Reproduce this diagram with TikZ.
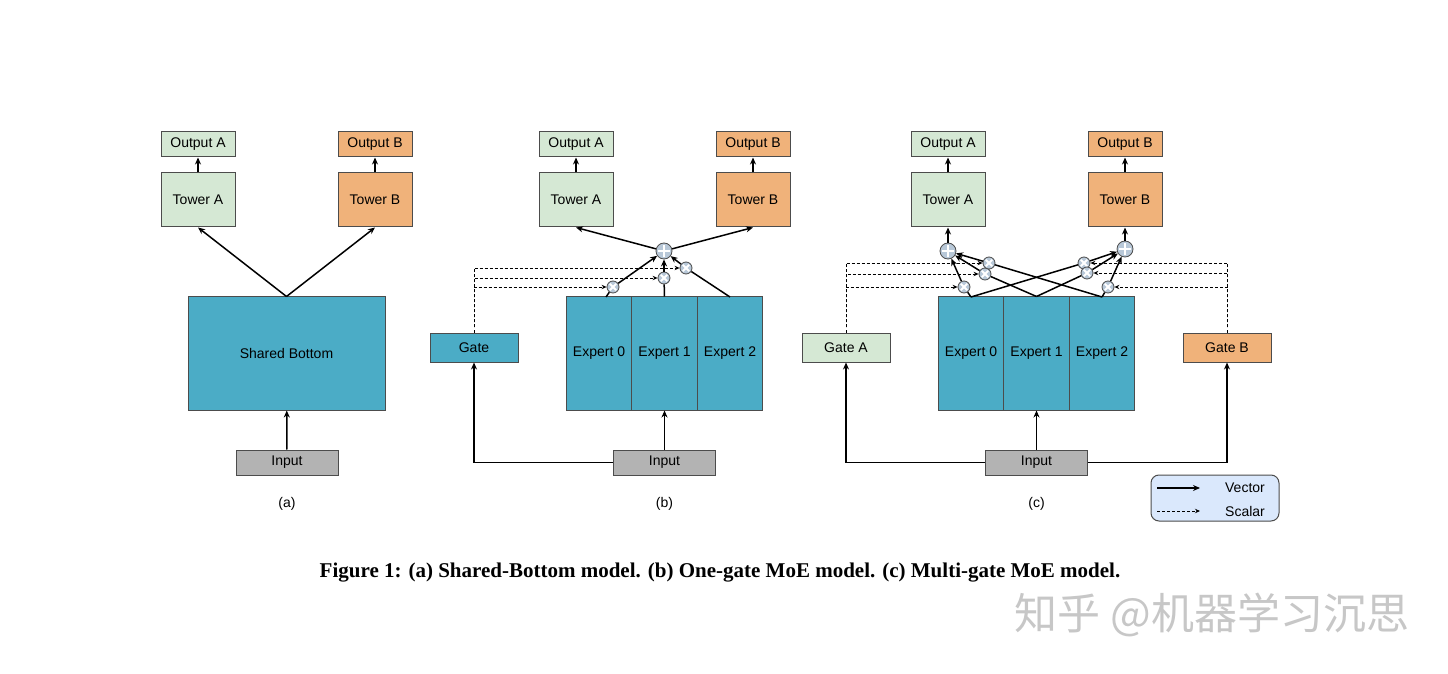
\documentclass[tikz,border=0pt]{standalone}
\usepackage{fontspec}
\setmainfont{Liberation Serif}
\newfontfamily\sans{Liberation Sans}
\newfontfamily\cjk{Noto Sans CJK SC}
\usetikzlibrary{arrows.meta}
\definecolor{gr}{HTML}{D5E8D4}
\definecolor{grd}{HTML}{82B366}
\definecolor{orf}{HTML}{F0B27A}
\definecolor{ord}{HTML}{B46504}
\definecolor{blf}{HTML}{4BACC6}
\definecolor{gyf}{HTML}{B3B3B3}
\definecolor{lgf}{HTML}{DAE8FC}
\definecolor{cf}{HTML}{B8C8D8}
\begin{document}
\begin{tikzpicture}[x=0.5pt,y=-0.5pt,
  box/.style={draw=black!70,inner sep=0,font=\sans\fontsize{7}{8}\selectfont,line width=0.5pt},
  outg/.style={box,fill=gr,minimum width=37pt,minimum height=12.5pt},
  outo/.style={box,fill=orf,minimum width=37pt,minimum height=12.5pt},
  towg/.style={box,fill=gr,minimum width=37pt,minimum height=27pt},
  towo/.style={box,fill=orf,minimum width=37pt,minimum height=27pt},
  inp/.style={box,fill=gyf,minimum width=51pt,minimum height=12.5pt},
  exp/.style={box,fill=blf,minimum width=32.83pt,minimum height=56.5pt},
  gate/.style={box,minimum width=44pt,minimum height=14.5pt},
  vec/.style={-{Stealth[length=3.5pt,width=3pt]},line width=0.75pt},
  sc/.style={-{Stealth[length=2.5pt,width=2.2pt]},dash pattern=on 1.5pt off 1pt,line width=0.4pt},
  mult/.style={circle,draw=black!70,fill=cf,minimum size=6pt,inner sep=0,line width=0.4pt,
    path picture={\draw[white,line width=0.9pt] ([shift={(-1.6pt,1.6pt)}]path picture bounding box.center)--([shift={(1.6pt,-1.6pt)}]path picture bounding box.center) ([shift={(1.6pt,1.6pt)}]path picture bounding box.center)--([shift={(-1.6pt,-1.6pt)}]path picture bounding box.center);}},
  sum/.style={circle,draw=black!70,fill=cf,minimum size=8pt,inner sep=0,line width=0.4pt,
    path picture={\draw[white,line width=1.3pt] ([yshift=2.8pt]path picture bounding box.center)--([yshift=-2.8pt]path picture bounding box.center) ([xshift=2.8pt]path picture bounding box.center)--([xshift=-2.8pt]path picture bounding box.center);}},
  lab/.style={font=\sans\fontsize{7}{8}\selectfont}]
\useasboundingbox (0,0) rectangle (1448,674);
% ---------- panel a
\node[outg] (aoa) at (198,144.5) {Output A};
\node[towg] (ata) at (198,200) {Tower A};
\node[outo] (aob) at (375,144.5) {Output B};
\node[towo] (atb) at (375,200) {Tower B};
\node[box,fill=blf,minimum width=98.5pt,minimum height=56.5pt] (asb) at (286.5,353.5) {Shared Bottom};
\node[inp] (ain) at (287,462.5) {Input};
\node[lab] (la) at (287,504) {(a)};
\draw[vec] (ain) -- (asb);
\draw[vec] (asb.north) -- (ata.south);
\draw[vec] (asb.north) -- (atb.south);
\draw[vec] (ata) -- (aoa);
\draw[vec] (atb) -- (aob);
% ---------- panel b
\node[outg] (boa) at (576,144.5) {Output A};
\node[towg] (bta) at (576,200) {Tower A};
\node[outo] (bob) at (753,144.5) {Output B};
\node[towo] (btb) at (753,200) {Tower B};
\node[exp] (be0) at (599,353.5) {Expert 0};
\node[exp] (be1) at (664.5,353.5) {Expert 1};
\node[exp] (be2) at (730,353.5) {Expert 2};
\node[gate,fill=blf] (bg) at (474,347.5) {Gate};
\node[inp] (bin) at (664.5,462.5) {Input};
\node[lab] (lb) at (664.5,504) {(b)};
\node[sum] (bs) at (664,251) {};
\node[mult] (bm0) at (613,287) {};
\node[mult] (bm1) at (664,278) {};
\node[mult] (bm2) at (686,268) {};
\coordinate (be0t) at (606,297);
\coordinate (be2t) at (730,297);
\draw[vec] (bin) -- (be1);
\draw[vec] (bin.west) -| (bg.south);
\draw[line width=0.75pt] (be0t) -- (bm0);
\draw[vec] (bm0) -- (bs);
\draw[line width=0.75pt] (be1.north) -- (bm1);
\draw[vec] (bm1) -- (bs);
\draw[line width=0.75pt] (be2t) -- (bm2);
\draw[vec] (bm2) -- (bs);
\draw[sc] (bg.north) |- (bm0.west);
\draw[sc] (bg.north) |- (bm1.west);
\draw[sc] (bg.north) |- (bm2.west);
\draw[vec] (bs) -- (bta.south);
\draw[vec] (bs) -- (btb.south);
\draw[vec] (bta) -- (boa);
\draw[vec] (btb) -- (bob);
% ---------- panel c
\node[outg] (coa) at (948,144.5) {Output A};
\node[towg] (cta) at (948,200) {Tower A};
\node[outo] (cob) at (1125,144.5) {Output B};
\node[towo] (ctb) at (1125,200) {Tower B};
\node[exp] (ce0) at (971,353.5) {Expert 0};
\node[exp] (ce1) at (1036.5,353.5) {Expert 1};
\node[exp] (ce2) at (1102,353.5) {Expert 2};
\node[gate,fill=gr] (cga) at (846,347.5) {Gate A};
\node[gate,fill=orf] (cgb) at (1227,347.5) {Gate B};
\node[inp] (cin) at (1036.5,462.5) {Input};
\node[lab] (lc) at (1036.5,504) {(c)};
\node[sum] (csa) at (948,251) {};
\node[sum] (csb) at (1125,249) {};
\node[mult] (ma0) at (964,287) {};
\node[mult] (ma1) at (985,274) {};
\node[mult] (ma2) at (989,263) {};
\node[mult] (mb0) at (1084,263) {};
\node[mult] (mb1) at (1087,273) {};
\node[mult] (mb2) at (1108,287) {};
\coordinate (ce0t) at (971,297);
\coordinate (ce2t) at (1102,297);
\draw[vec] (cin) -- (ce1);
\draw[vec] (cin.west) -| (cga.south);
\draw[vec] (cin.east) -| (cgb.south);
\draw[line width=0.75pt] (ce0t) -- (ma0);
\draw[line width=0.75pt] (ce1.north) -- (ma1);
\draw[line width=0.75pt] (ce2t) -- (ma2);
\draw[line width=0.75pt] (ce0t) -- (mb0);
\draw[line width=0.75pt] (ce1.north) -- (mb1);
\draw[line width=0.75pt] (ce2t) -- (mb2);
\draw[vec] (ma0) -- (csa);
\draw[vec] (ma1) -- (csa);
\draw[vec] (ma2) -- (csa);
\draw[vec] (mb0) -- (csb);
\draw[vec] (mb1) -- (csb);
\draw[vec] (mb2) -- (csb);
\draw[sc] (cga.north) |- (ma0.west);
\draw[sc] (cga.north) |- (ma1.west);
\draw[sc] (cga.north) |- (ma2.west);
\draw[sc] (cgb.north) |- (mb0.east);
\draw[sc] (cgb.north) |- (mb1.east);
\draw[sc] (cgb.north) |- (mb2.east);
\draw[vec] (csa) -- (cta.south);
\draw[vec] (csb) -- (ctb.south);
\draw[vec] (cta) -- (coa);
\draw[vec] (ctb) -- (cob);
% ---------- legend
\node[draw=black!70,fill=lgf,rounded corners=4pt,minimum width=64pt,minimum height=23pt,line width=0.5pt] (leg) at (1215,498) {};
\coordinate (l1a) at (1157,488); \coordinate (l1b) at (1200,488);
\coordinate (l2a) at (1157,511); \coordinate (l2b) at (1200,511);
\draw[vec] (l1a) -- (l1b);
\draw[sc] (l2a) -- (l2b);
\node[lab] (lv) at (1245,488) {Vector};
\node[lab] (ls) at (1245,511) {Scalar};
% ---------- caption
\node[font=\bfseries\fontsize{10.5}{12}\selectfont] (cap) at (720,573) {Figure 1: (a) Shared-Bottom model. (b) One-gate MoE model. (c) Multi-gate MoE model.};
\node[font=\cjk\fontsize{21.5}{23}\selectfont,text=black!22] (wm) at (1212,615) {知乎 @机器学习沉思};
\end{tikzpicture}
\end{document}
